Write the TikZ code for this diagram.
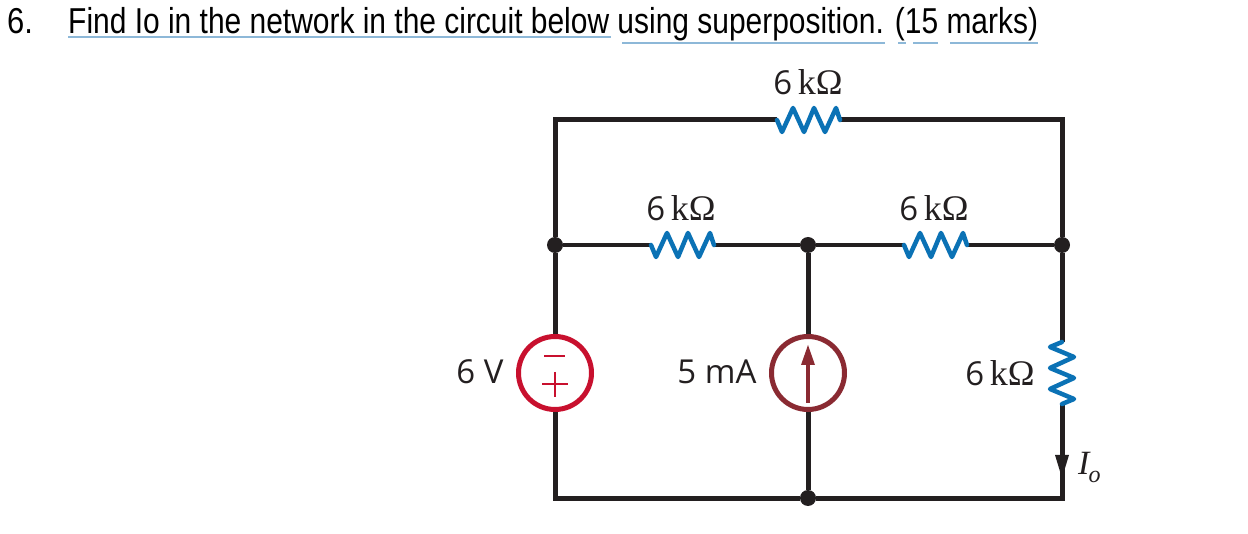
\documentclass[tikz,border=0pt]{standalone}
\usepackage{fontspec}
\setmainfont{Liberation Sans}
\newfontfamily\lblfont{Open Sans}
\newfontfamily\ohmfont{Liberation Serif}
\definecolor{wirec}{HTML}{231F20}
\definecolor{resc}{HTML}{0B72B5}
\definecolor{vsrc}{HTML}{C8102E}
\definecolor{isrc}{HTML}{8A2A32}
\definecolor{ulc}{HTML}{8DB8D8}
\newcommand{\kohm}{{\lblfont 6}\,{\ohmfont\fontsize{36}{38}\selectfont kΩ}}
\tikzset{
  wire/.style={draw=wirec,line width=5pt},
  thinwire/.style={draw=wirec,line width=4pt},
  resline/.style={draw=resc,line width=4.5pt,line join=round,line cap=round},
  junction/.style={circle,fill=wirec,inner sep=0pt,minimum size=16pt},
  lbl/.style={inner sep=0pt,text=wirec,font=\lblfont\fontsize{33}{35}\selectfont},
  titletext/.style={inner sep=0pt,anchor=base west,text=black,font=\fontsize{36}{40}\selectfont},
  ul/.style={draw=ulc,line width=1.5pt},
  vsource/.style={circle,draw=vsrc,line width=5pt,minimum size=73pt,inner sep=0pt,fill=white},
  isource/.style={circle,draw=isrc,line width=5pt,minimum size=73pt,inner sep=0pt,fill=white}
}
\newcommand{\hres}[1]{% #1 left end
  \draw[resline] (#1) -- ++(5,12) -- ++(11,-24) -- ++(11,24) -- ++(10,-24) -- ++(11,24) -- ++(11,-24) -- ++(4,12);
}
\begin{document}
\begin{tikzpicture}[x=1pt,y=-1pt]
\useasboundingbox (0,0) rectangle (1248,534);
% title
\node[titletext] (num) at (7,34) {\scalebox{.86}[1]{6.}};
\node[titletext] (ttl) at (68,34) {\scalebox{.832}[1]{Find Io in the network in the circuit below using superposition. (15 marks)}};
\draw[ul] (68,37) -- (611,37);
\draw[ul] (622,43) -- (885,43);
\draw[ul] (898,43) -- (906,43);
\draw[ul] (913,43) -- (938,43);
\draw[ul] (950,43) -- (1038,43);
% corners and terminals
\coordinate (tl) at (555,120);
\coordinate (tr) at (1062,120);
\coordinate (bl) at (555,498);
\coordinate (br) at (1062,498);
\node[junction] (jl) at (555,245) {};
\node[junction] (jm) at (808,245) {};
\node[junction] (jr) at (1062,245) {};
\node[junction] (jb) at (808,498) {};
\node[vsource] (vs) at (555,373) {};
\node[isource] (is) at (808,373) {};
\coordinate (r1a) at (777,120);
\coordinate (r1b) at (840,120);
\coordinate (r2a) at (651,245);
\coordinate (r2b) at (714,245);
\coordinate (r3a) at (904,245);
\coordinate (r3b) at (967,245);
\coordinate (r4a) at (1062,342);
\coordinate (r4b) at (1062,404);
% wires
\draw[wire,line join=miter] (r1a) -- (tl) -- (jl);
\draw[wire,line join=miter] (r1b) -- (tr) -- (jr);
\draw[thinwire] (jl) -- (r2a);
\draw[thinwire] (r2b) -- (jm);
\draw[thinwire] (jm) -- (r3a);
\draw[thinwire] (r3b) -- (jr);
\draw[wire] (jl) -- (vs);
\draw[wire] (jm) -- (is);
\draw[wire] (jr) -- (r4a);
\draw[wire,line join=miter] (r4b) -- (br) -- (jb);
\draw[wire,line join=miter] (vs) -- (bl) -- (jb);
\draw[wire] (is) -- (jb);
% resistors
\hres{r1a}
\hres{r2a}
\hres{r3a}
\draw[resline] (r4a) -- ++(-12,5) -- ++(24,10) -- ++(-24,11) -- ++(24,10) -- ++(-24,11) -- ++(24,10) -- (r4b);
% source symbols
\draw[draw=vsrc,line width=1.8pt] (544,356) -- (565,356);
\draw[draw=vsrc,line width=1.5pt] (542,384) -- (568,384) (555,372) -- (555,397);
\draw[draw=isrc,line width=4.5pt] (808,403) -- (808,362);
\fill[isrc] (808,345) -- (815,365) -- (801,365) -- cycle;
% Io arrow
\fill[wirec] (1062,478) -- (1055,455) -- (1069,455) -- cycle;
% labels
\node[lbl] (l1) at (808,82) {\kohm};
\node[lbl] (l2) at (681,208) {\kohm};
\node[lbl] (l3) at (934,208) {\kohm};
\node[lbl] (l4) at (1000,373) {\kohm};
\node[lbl] (l5) at (480,372) {6 V};
\node[lbl] (l6) at (717,372) {5 mA};
\node[lbl,anchor=west,font=\ohmfont\itshape\fontsize{34}{36}\selectfont] (l7) at (1078,467) {I\kern-1pt\raisebox{-8pt}{\fontsize{24}{24}\selectfont o}};
\end{tikzpicture}
\end{document}
